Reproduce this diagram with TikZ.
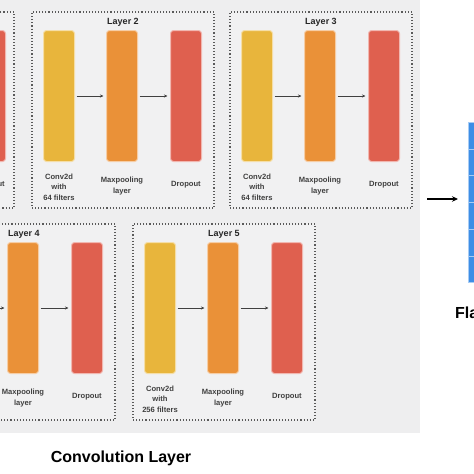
\documentclass[tikz,border=0pt]{standalone}
\usepackage{fontspec}
\setmainfont{Liberation Sans}
\usetikzlibrary{arrows.meta}
\definecolor{bggray}{HTML}{EEEEEF}
\definecolor{boxgray}{HTML}{F1F1F2}
\definecolor{convc}{HTML}{E8B53C}
\definecolor{poolc}{HTML}{EA9138}
\definecolor{dropc}{HTML}{DF604F}
\definecolor{flatc}{HTML}{3D8EE6}
\definecolor{dotc}{HTML}{5A5A5A}
\tikzset{
  layerbox/.style={draw=dotc, dotted, line width=1.1pt, fill=boxgray, minimum width=182pt, minimum height=196pt, inner sep=0pt},
  bar/.style={rounded corners=3pt, minimum width=31pt, minimum height=131pt, inner sep=0pt, line width=1pt},
  convbar/.style={bar, fill=convc, draw=convc!45!white},
  poolbar/.style={bar, fill=poolc, draw=poolc!45!white},
  dropbar/.style={bar, fill=dropc, draw=dropc!45!white},
  ltitle/.style={font=\bfseries\fontsize{9}{10}\selectfont, text=black!85, inner sep=0pt},
  lab/.style={font=\bfseries\fontsize{7.6}{10.5}\selectfont, text=black!75, align=center, inner sep=0pt},
  arr/.style={-{Stealth[length=3.5pt,width=3pt]}, line width=0.6pt, draw=black!75, shorten <=1.5pt, shorten >=2.5pt},
  bigarr/.style={-{Stealth[length=6pt,width=5.5pt]}, line width=1.4pt, draw=black},
  bigtext/.style={font=\bfseries\fontsize{16}{18}\selectfont, inner sep=0pt},
  flatcell/.style={fill=flatc, draw=flatc!45!white, line width=0.8pt, minimum width=32pt, minimum height=26.7pt, inner sep=0pt, anchor=north west}
}
\newcommand\cnnlayer[5]{%
  \node[layerbox] (#1box) at (#2+91,#3+98) {};
  \node[ltitle] (#1title) at (#2+91,#3+10) {#4};
  \node[convbar] (#1conv) at (#2+27,#3+84) {};
  \node[poolbar] (#1pool) at (#2+90,#3+84) {};
  \node[dropbar] (#1drop) at (#2+154,#3+84) {};
  \draw[arr] (#1conv) -- (#1pool);
  \draw[arr] (#1pool) -- (#1drop);
  \node[lab] (#1convlab) at (#2+27,#3+175) {#5};
  \node[lab] (#1poollab) at (#2+90,#3+174) {Maxpooling\\layer};
  \node[lab] (#1droplab) at (#2+154,#3+173) {Dropout};
}
\begin{document}
\begin{tikzpicture}[x=1pt,y=-1pt]
\useasboundingbox (0,0) rectangle (474,474);
\fill[bggray] (-200,-10) rectangle (420,433);
% Layer 1 (only its right part lies in the picture)
\node[layerbox] (labox) at (-168+91,110) {};
\node[dropbar] (ladrop) at (-168+154+4,96) {};
\node[lab] (ladroplab) at (-168+154+4,185) {Dropout};
% Layers 2 and 3
\cnnlayer{lb}{32}{12}{Layer 2}{Conv2d\\with\\64 filters}
\cnnlayer{lc}{230}{12}{Layer 3}{Conv2d\\with\\64 filters}
% Layer 4 (its left part lies outside the picture)
\node[layerbox] (ldbox) at (-67+91,322) {};
\node[ltitle] (ldtitle) at (-67+91,234) {Layer 4};
\node[convbar] (ldconv) at (-67+27,308) {};
\node[poolbar] (ldpool) at (-67+90,308) {};
\node[dropbar] (lddrop) at (-67+154,308) {};
\draw[arr] (ldconv) -- (ldpool);
\draw[arr] (ldpool) -- (lddrop);
\node[lab] (ldpoollab) at (-67+90,398) {Maxpooling\\layer};
\node[lab] (lddroplab) at (-67+154,397) {Dropout};
% Layer 5
\cnnlayer{le}{133}{224}{Layer 5}{Conv2d\\with\\256 filters}
\node[bigtext] (convtitle) at (121,458) {Convolution Layer};
% Flatten
\node[flatcell] (f1) at (468,122) {};
\node[flatcell] (f2) at (468,148.7) {};
\node[flatcell] (f3) at (468,175.4) {};
\node[flatcell] (f4) at (468,202.1) {};
\node[flatcell] (f5) at (468,228.8) {};
\node[flatcell] (f6) at (468,255.5) {};
\coordinate (arrstart) at (427,199);
\draw[bigarr, shorten >=10pt] (arrstart) -- (arrstart -| f4.west);
\node[bigtext, anchor=west] (flattext) at (455,313) {Flatten};
\end{tikzpicture}
\end{document}
